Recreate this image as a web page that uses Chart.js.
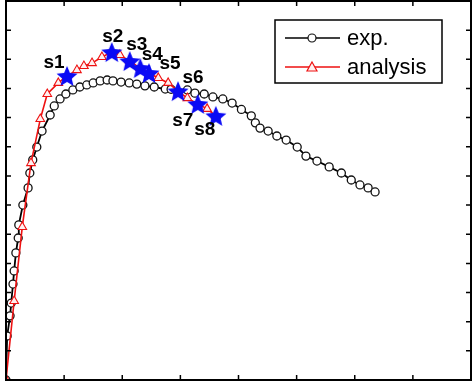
<!DOCTYPE html>
<html lang="en">
<head>
  <meta charset="UTF-8" />
  <title>exp. vs analysis</title>
  <style>
    html, body { margin: 0; padding: 0; background: #fff; }
    #chart { display: block; }
  </style>
</head>
<body>
  <canvas id="chart" width="474" height="386"></canvas>
  <script src="https://cdn.jsdelivr.net/npm/chart.js"></script>
  <script>
    // experimental curve (black circles)
    const expX = [0, 0.02, 0.07, 0.09, 0.12, 0.14, 0.17, 0.21, 0.22, 0.29, 0.38, 0.41, 0.46, 0.53, 0.62, 0.76, 0.83, 0.93,
      1.03, 1.15, 1.27, 1.39, 1.50, 1.62, 1.74, 1.84, 1.98, 2.12, 2.25, 2.39, 2.55, 2.74, 2.84, 3.12, 3.25, 3.41, 3.56,
      3.73, 3.89, 4.05, 4.22, 4.29, 4.37, 4.51, 4.66, 4.82, 5.01, 5.16, 5.35, 5.56, 5.77, 5.94, 6.09, 6.23, 6.35];
    const expY = [0, 1.51, 2.20, 2.64, 3.29, 3.74, 4.36, 4.87, 5.32, 6.00, 6.59, 7.10, 7.55, 7.99, 8.54, 9.09, 9.40, 9.64,
      9.81, 9.95, 10.05, 10.12, 10.19, 10.26, 10.29, 10.26, 10.22, 10.19, 10.15, 10.09, 10.05, 9.98, 9.97, 9.95, 9.84, 9.81, 9.71,
      9.64, 9.50, 9.28, 9.06, 8.82, 8.64, 8.54, 8.37, 8.23, 7.99, 7.68, 7.51, 7.31, 7.10, 6.86, 6.69, 6.59, 6.45];

    // analysis curve (red triangles)
    const anaX = [0, 0.14, 0.28, 0.43, 0.59, 0.71, 0.90, 1.05, 1.22, 1.34, 1.48, 1.65, 1.82, 1.96, 2.13, 2.31, 2.46,
      2.62, 2.79, 2.96, 3.12, 3.30, 3.46, 3.61];
    const anaY = [0, 2.71, 5.25, 7.44, 8.95, 9.81, 10.19, 10.43, 10.63, 10.77, 10.87, 11.08, 11.25, 11.15, 10.94, 10.70, 10.53,
      10.36, 10.19, 9.91, 9.67, 9.47, 9.30, 9.06];

    // marked states s1..s8 (blue stars)
    const stateLabels = ['s1', 's2', 's3', 's4', 's5', 's6', 's7', 's8'];
    const stateX = [1.05, 1.82, 2.13, 2.31, 2.46, 2.96, 3.30, 3.61];
    const stateY = [10.43, 11.25, 10.94, 10.70, 10.53, 9.91, 9.47, 9.06];
    // label offsets from each star, in px
    const labelOffsets = [[-13, -13], [1, -15], [7, -16], [12, -13], [21, -9], [15, -13], [-15, 17], [-11, 14]];

    const toPts = (xs, ys) => xs.map((x, i) => ({ x, y: ys[i] }));

    // filled 5-point star as a point image
    function makeStar(r, color) {
      const c = document.createElement('canvas');
      c.width = c.height = r * 2 + 2;
      const g = c.getContext('2d');
      g.beginPath();
      for (let i = 0; i < 10; i++) {
        const rad = i % 2 === 0 ? r : r * 0.45;
        const a = -Math.PI / 2 + i * Math.PI / 5;
        g.lineTo(r + 1 + rad * Math.cos(a), r + 1 + rad * Math.sin(a) + r * 0.1);
      }
      g.closePath();
      g.fillStyle = color;
      g.fill();
      return c;
    }
    const starImg = makeStar(11, '#0a0af5');

    // frame, inward ticks on all sides, state labels, legend
    const decor = {
      id: 'decor',
      afterDatasetsDraw(chart) {
        const { ctx, chartArea: a, scales } = chart;
        ctx.save();
        ctx.strokeStyle = '#000';
        ctx.lineWidth = 1.5;
        ctx.beginPath();
        for (let v = 1; v < 8; v++) {
          const px = scales.x.getPixelForValue(v);
          ctx.moveTo(px, a.bottom); ctx.lineTo(px, a.bottom - 5);
          ctx.moveTo(px, a.top); ctx.lineTo(px, a.top + 5);
        }
        for (let v = 1; v < 13; v++) {
          const py = scales.y.getPixelForValue(v);
          ctx.moveTo(a.left, py); ctx.lineTo(a.left + 5, py);
          ctx.moveTo(a.right, py); ctx.lineTo(a.right - 5, py);
        }
        ctx.stroke();
        ctx.lineWidth = 2;
        ctx.strokeRect(a.left, a.top, a.right - a.left, a.bottom - a.top);

        // state labels
        ctx.fillStyle = '#000';
        ctx.font = 'bold 19px "Liberation Sans", Arial, sans-serif';
        ctx.textAlign = 'center';
        ctx.textBaseline = 'middle';
        const meta = chart.getDatasetMeta(2);
        meta.data.forEach((pt, i) => {
          ctx.fillText(stateLabels[i], pt.x + labelOffsets[i][0], pt.y + labelOffsets[i][1]);
        });

        // legend
        const lx = 275, ly = 20, lw = 167, lh = 63;
        ctx.fillStyle = '#fff';
        ctx.fillRect(lx, ly, lw, lh);
        ctx.lineWidth = 1.5;
        ctx.strokeStyle = '#000';
        ctx.strokeRect(lx, ly, lw, lh);
        const rows = [
          { ds: chart.data.datasets[0], y: 38 },
          { ds: chart.data.datasets[1], y: 67 }
        ];
        ctx.font = '22px "Liberation Sans", Arial, sans-serif';
        ctx.textAlign = 'left';
        rows.forEach(r => {
          ctx.strokeStyle = r.ds.borderColor;
          ctx.lineWidth = 1.5;
          ctx.beginPath();
          ctx.moveTo(285, r.y); ctx.lineTo(340, r.y);
          ctx.stroke();
          ctx.fillStyle = r.ds.pointBackgroundColor;
          ctx.strokeStyle = r.ds.pointBorderColor;
          ctx.lineWidth = 1.2;
          ctx.beginPath();
          if (r.ds.pointStyle === 'triangle') {
            ctx.moveTo(312, r.y - 5); ctx.lineTo(317, r.y + 4); ctx.lineTo(307, r.y + 4); ctx.closePath();
          } else {
            ctx.arc(312, r.y, 4, 0, Math.PI * 2);
          }
          ctx.fill();
          ctx.stroke();
          ctx.fillStyle = '#000';
          ctx.fillText(r.ds.label, 347, r.y + 1);
        });
        ctx.restore();
      }
    };

    new Chart(document.getElementById('chart'), {
      type: 'scatter',
      data: {
        datasets: [
          {
            label: 'exp.',
            data: toPts(expX, expY),
            showLine: true,
            order: 3,
            borderColor: '#000',
            borderWidth: 1.8,
            pointStyle: 'circle',
            pointRadius: 4,
            pointBorderWidth: 1.3,
            pointBorderColor: '#111',
            pointBackgroundColor: '#fff'
          },
          {
            label: 'analysis',
            data: toPts(anaX, anaY),
            showLine: true,
            order: 2,
            borderColor: '#ee1111',
            borderWidth: 1.6,
            pointStyle: 'triangle',
            pointRadius: 5,
            pointBorderWidth: 1.1,
            pointBorderColor: '#ee1111',
            pointBackgroundColor: '#fff0f0'
          },
          {
            label: 'states',
            data: toPts(stateX, stateY),
            showLine: false,
            order: 1,
            pointStyle: starImg,
            pointRadius: 11
          }
        ]
      },
      options: {
        responsive: false,
        animation: false,
        layout: { autoPadding: false, padding: { left: 6, top: 1, right: 3, bottom: 6 } },
        plugins: { legend: { display: false }, tooltip: { enabled: false } },
        scales: {
          x: { type: 'linear', display: false, min: 0, max: 8 },
          y: { type: 'linear', display: false, min: 0, max: 13 }
        }
      },
      plugins: [decor]
    });
  </script>
</body>
</html>
